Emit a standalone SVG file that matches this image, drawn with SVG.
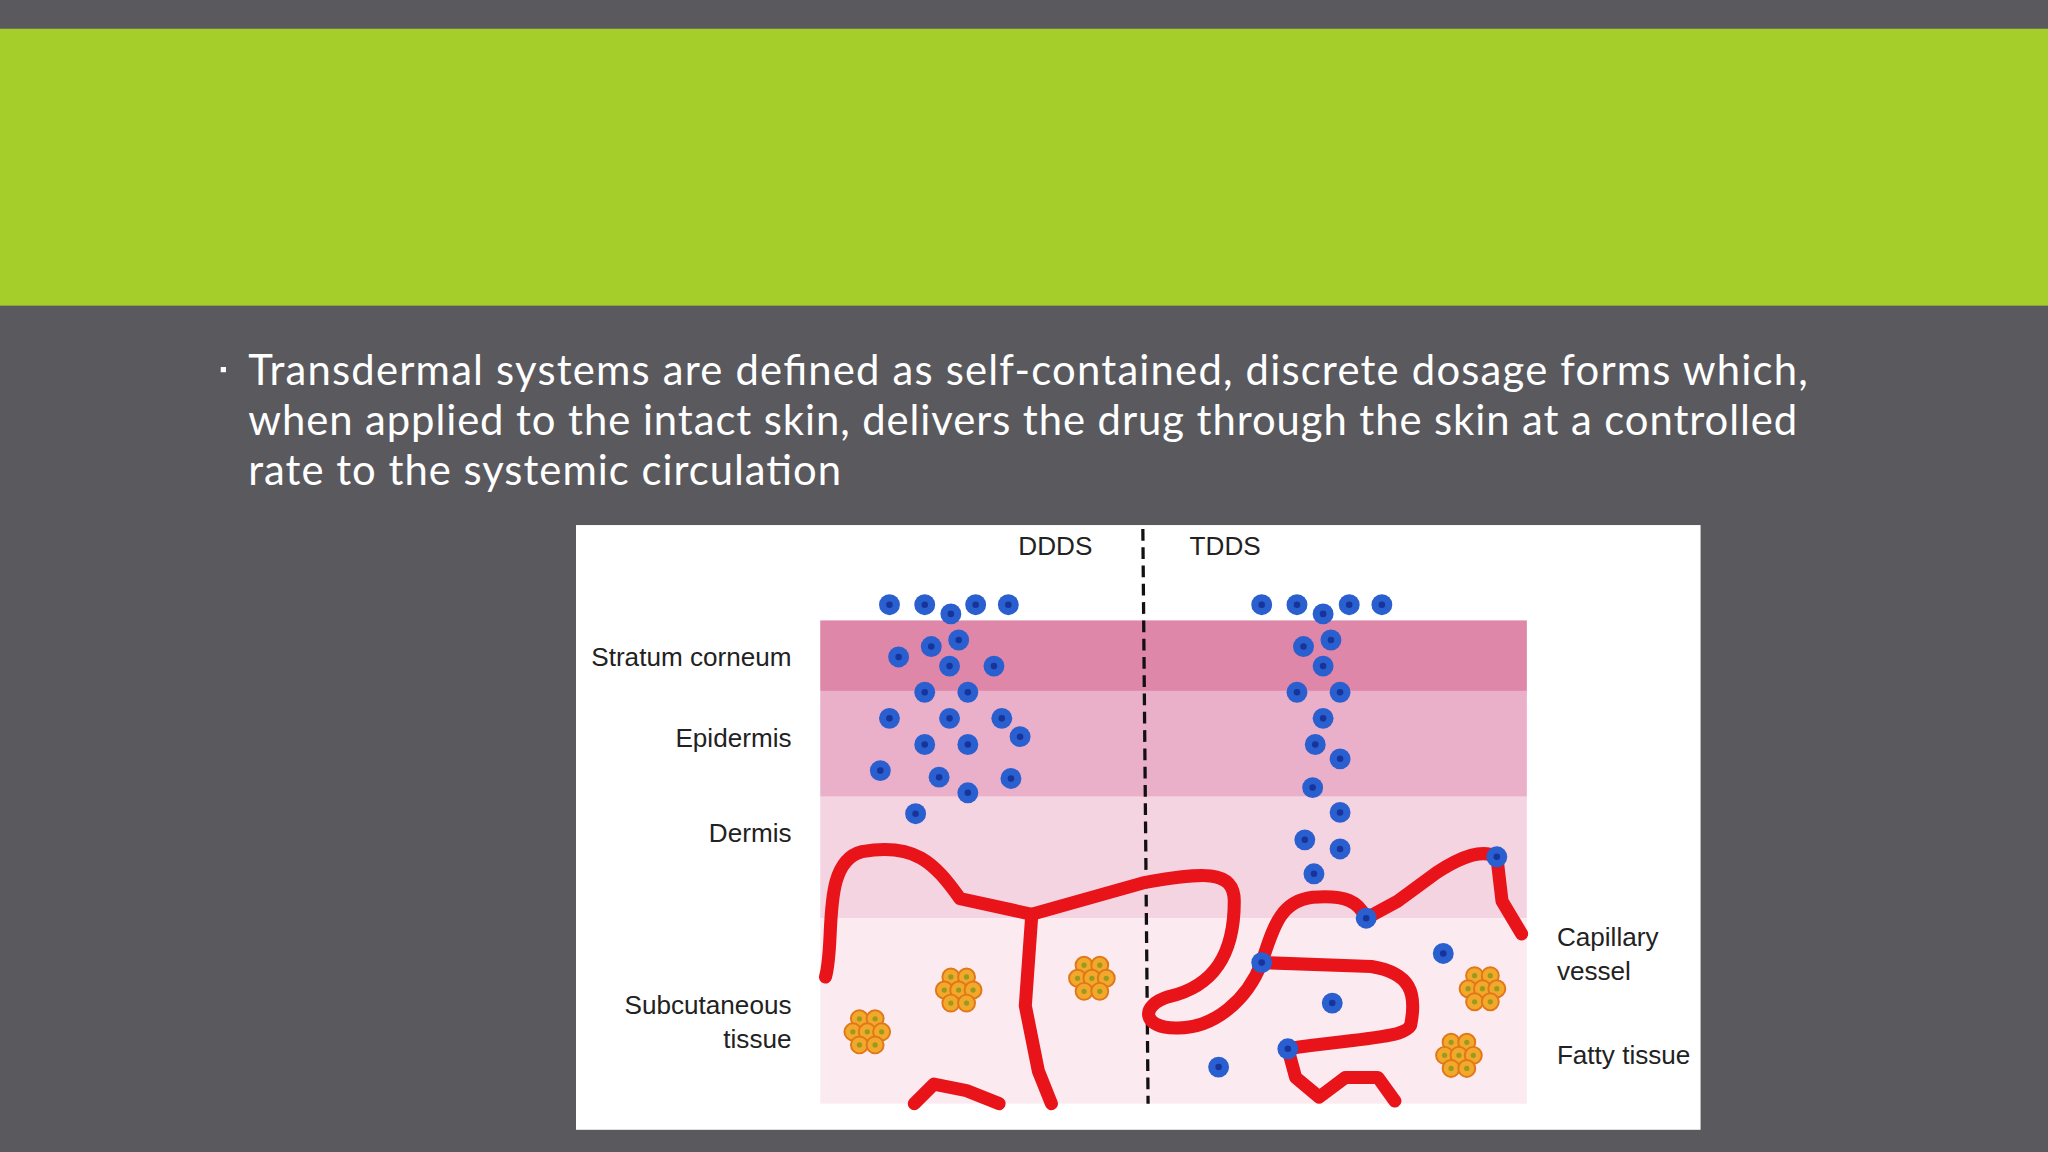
<svg xmlns="http://www.w3.org/2000/svg" width="2048" height="1152" viewBox="0 0 2048 1152">
<defs>
<style>
.t{font-family:"Lato","Open Sans",sans-serif;fill:#fff;font-size:32px}
.l{font-family:"Liberation Sans",Arial,sans-serif;fill:#222;font-size:20px}
.v{fill:none;stroke:#e8141a;stroke-width:10;stroke-linecap:round;stroke-linejoin:round}
</style>
<g id="dot"><circle r="8" fill="#2a5fcf"/><circle r="2.5" fill="#17349a"/></g>
<g id="fat"><g fill="#f2a82a" stroke="#e0781a" stroke-width="1.5">
<circle cx="-6" cy="-10" r="6.5"/><circle cx="6" cy="-10" r="6.5"/><circle cx="-11" cy="0" r="6.5"/><circle cx="0" cy="0" r="6.5"/><circle cx="11" cy="0" r="6.5"/><circle cx="-6" cy="10" r="6.5"/><circle cx="6" cy="10" r="6.5"/></g>
<g fill="#9a9a20"><circle cx="-6" cy="-10" r="2"/><circle cx="6" cy="-10" r="2"/><circle cx="-11" cy="0" r="2"/><circle cx="0" cy="0" r="2"/><circle cx="11" cy="0" r="2"/><circle cx="-6" cy="10" r="2"/><circle cx="6" cy="10" r="2"/></g></g>
</defs>
<rect width="2048" height="1152" fill="#5a595e"/>
<g transform="scale(1.30612)">
<rect x="0" y="22" width="1568" height="212" fill="#a6ce2b"/>
<g id="bullet">
<rect x="169" y="281" width="4" height="4" fill="#fff"/>
<text class="t" x="190" y="295" textLength="1194">Transdermal systems are defined as self-contained, discrete dosage forms which,</text>
<text class="t" x="190" y="333" textLength="1186">when applied to the intact skin, delivers the drug through the skin at a controlled</text>
<text class="t" x="190" y="371" textLength="454">rate to the systemic circulation</text>
</g>
<g id="figure">
<rect x="441" y="402" width="861" height="463" fill="#fff"/>
<rect x="628" y="475" width="541" height="54" fill="#de87a8"/>
<rect x="628" y="529" width="541" height="81" fill="#eab0ca"/>
<rect x="628" y="610" width="541" height="93" fill="#f5d4e2"/>
<rect x="628" y="703" width="541" height="142" fill="#fbebf1"/>
<line x1="875" y1="405" x2="879" y2="845" stroke="#111" stroke-width="2.5" stroke-dasharray="9,5"/>
<text class="l" x="808" y="425" text-anchor="middle">DDDS</text>
<text class="l" x="938" y="425" text-anchor="middle">TDDS</text>
<g text-anchor="end">
<text class="l" x="606" y="510">Stratum corneum</text>
<text class="l" x="606" y="572">Epidermis</text>
<text class="l" x="606" y="645">Dermis</text>
<text class="l" x="606" y="776">Subcutaneous</text>
<text class="l" x="606" y="802">tissue</text>
</g>
<text class="l" x="1192" y="724">Capillary</text>
<text class="l" x="1192" y="750">vessel</text>
<text class="l" x="1192" y="815">Fatty tissue</text>
</g>
<g id="connectors">
<path class="v" d="M632,748 C640,720 628,660 660,652 C700,645 715,660 735,688 L790,700 L875,676 C920,668 945,665 945,690 C945,730 930,755 895,763 C872,770 875,787 900,787 C930,788 955,765 966,737"/>
<path class="v" d="M790,700 L785,770 L795,820 L805,845"/>
<path class="v" d="M700,845 L715,830 L740,835 L765,845"/>
<path class="v" d="M966,737 L1050,740 C1080,745 1085,760 1080,785 C1075,795 1040,795 986,803 L992,825 L1010,840 L1030,825 L1055,825 L1068,843"/>
<path class="v" d="M966,737 C975,710 980,690 1005,687 C1030,685 1040,690 1046,703 L1070,690 L1100,668 C1120,655 1135,650 1146,656 L1150,690 L1165,715"/>
</g>
<g id="fats">
<use href="#fat" x="734" y="758"/><use href="#fat" x="836" y="749"/><use href="#fat" x="664" y="790"/><use href="#fat" x="1135" y="757"/><use href="#fat" x="1117" y="808"/>
</g>
<g id="drug">
<use href="#dot" x="681" y="463"/><use href="#dot" x="708" y="463"/><use href="#dot" x="728" y="470"/><use href="#dot" x="747" y="463"/><use href="#dot" x="772" y="463"/><use href="#dot" x="734" y="490"/><use href="#dot" x="713" y="495"/><use href="#dot" x="688" y="503"/><use href="#dot" x="727" y="510"/><use href="#dot" x="761" y="510"/><use href="#dot" x="708" y="530"/><use href="#dot" x="741" y="530"/><use href="#dot" x="681" y="550"/><use href="#dot" x="727" y="550"/><use href="#dot" x="767" y="550"/><use href="#dot" x="781" y="564"/><use href="#dot" x="708" y="570"/><use href="#dot" x="741" y="570"/><use href="#dot" x="674" y="590"/><use href="#dot" x="719" y="595"/><use href="#dot" x="774" y="596"/><use href="#dot" x="741" y="607"/><use href="#dot" x="701" y="623"/>
<use href="#dot" x="966" y="463"/><use href="#dot" x="993" y="463"/><use href="#dot" x="1013" y="470"/><use href="#dot" x="1033" y="463"/><use href="#dot" x="1058" y="463"/><use href="#dot" x="1019" y="490"/><use href="#dot" x="998" y="495"/><use href="#dot" x="1013" y="510"/><use href="#dot" x="993" y="530"/><use href="#dot" x="1026" y="530"/><use href="#dot" x="1013" y="550"/><use href="#dot" x="1007" y="570"/><use href="#dot" x="1026" y="581"/><use href="#dot" x="1005" y="603"/><use href="#dot" x="1026" y="622"/><use href="#dot" x="999" y="643"/><use href="#dot" x="1026" y="650"/><use href="#dot" x="1006" y="669"/><use href="#dot" x="1146" y="656"/><use href="#dot" x="1046" y="703"/><use href="#dot" x="966" y="737"/><use href="#dot" x="1105" y="730"/><use href="#dot" x="1020" y="768"/><use href="#dot" x="986" y="803"/><use href="#dot" x="933" y="817"/>
</g>
</g>
</svg>
